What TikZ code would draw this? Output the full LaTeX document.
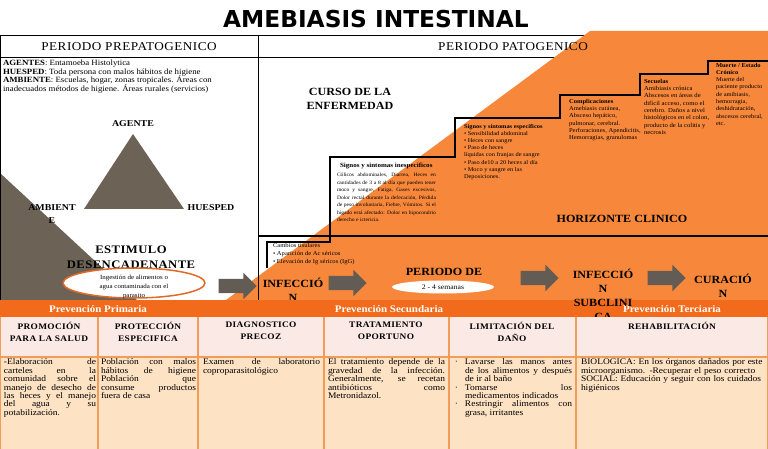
\documentclass[tikz,border=0pt]{standalone}
\usepackage{fontspec}
\setmainfont{Liberation Serif}[FakeStretch=1.1]
\newfontfamily\titlefont{DejaVu Sans}
\usepackage{tikz}
\usetikzlibrary{shapes.arrows,shapes.geometric}
\definecolor{diagorange}{HTML}{F7883B}
\definecolor{barorange}{HTML}{F26B1D}
\definecolor{taupe}{HTML}{6C6256}
\definecolor{arrowgray}{HTML}{625C55}
\definecolor{headpink}{HTML}{FBE9E6}
\definecolor{bodypeach}{HTML}{FDE2C4}
\definecolor{gridorange}{HTML}{F29C5A}
\definecolor{ringorange}{HTML}{E26A28}

\begin{document}
\begin{tikzpicture}[x=1pt, y=-1pt,
    every node/.style={inner sep=0pt, outer sep=0pt},
    panelhead/.style={font=\fontsize{12}{12}\selectfont\addfontfeature{LetterSpace=4}},
    bigword/.style={font=\bfseries\fontsize{11}{14}\selectfont, align=center},
    stairtext/.style={anchor=north west, align=left, font=\fontsize{6}{7.3}\selectfont},
    grayarrow/.style={single arrow, fill=arrowgray, minimum height=38pt, inner xsep=0pt, inner ysep=7pt, single arrow head extend=6pt},
    barlabel/.style={text=white, font=\bfseries\fontsize{10}{10}\selectfont},
    cellhead/.style={anchor=north, align=center, font=\bfseries\fontsize{8.5}{12.3}\selectfont\addfontfeature{LetterSpace=4}},
    cellbody/.style={anchor=north west, align=justify, font=\fontsize{8.6}{8.35}\selectfont}]
\useasboundingbox (0,0) rectangle (768,449);
\fill[white] (0,0) rectangle (768,449);
% Prepathogenic panel shapes
\fill[taupe] (0,173) -- (137,300) -- (0,300) -- cycle;
\fill[taupe] (133,134) -- (184,209) -- (84,209) -- cycle;
% Frame
\draw[line width=1pt] (0,36) -- (768,36);
\draw[line width=1pt] (0,58) -- (768,58);
\draw[line width=0.8pt] (0.5,36) -- (0.5,300);
% Orange course of the disease
\fill[diagorange] (590,31) -- (768,31) -- (768,300) -- (226,300) -- cycle;
\draw[line width=1pt] (258,36) -- (258,300);
% Titles
\node[font=\titlefont\bfseries\fontsize{23.3}{23.3}\selectfont] (title) at (376,19) {AMEBIASIS INTESTINAL};
\node[panelhead] (prepat) at (129,47) {PERIODO PREPATOGENICO};
\node[panelhead] (patog) at (513,47) {PERIODO PATOGENICO};
% Triad
\node[anchor=north west, align=left, font=\fontsize{8}{8.7}\selectfont] (factores) at (3,60)
  {\textbf{AGENTES}: Entamoeba Histolytica\\
   \textbf{HUESPED}: Toda persona con malos hábitos de higiene\\
   \textbf{AMBIENTE}: Escuelas, hogar, zonas tropicales. Áreas con\\
   inadecuados métodos de higiene. Áreas rurales (servicios)};
\node[font=\bfseries\fontsize{9}{9}\selectfont] (agente) at (133,124) {AGENTE};
\node[font=\bfseries\fontsize{9}{13}\selectfont, align=center] (ambiente) at (52,214) {AMBIENT\\E};
\node[font=\bfseries\fontsize{9}{9}\selectfont] (huesped) at (211,208) {HUESPED};
\node[font=\bfseries\fontsize{11.5}{15}\selectfont\addfontfeature{LetterSpace=4}, align=center] (estimulo) at (131,257) {ESTIMULO\\DESENCADENANTE};
\node[ellipse, draw=ringorange, line width=1.5pt, fill=white, minimum width=142pt, minimum height=30pt] (ingesta) at (134,283) {};
\node[font=\fontsize{6.3}{8.7}\selectfont, align=center] (ingestatxt) at (134,287)
  {Ingestión de alimentos o\\agua contaminada con el\\parasito};
% Staircase and clinical horizon
\draw[line width=1.5pt] (258,236) -- (768,236);
\draw[line width=2.5pt] (267,268) -- (267,242) -- (330,242) -- (330,157) -- (455,157)
  -- (455,118) -- (560,118) -- (560,95) -- (640,95) -- (640,74) -- (708,74) -- (708,61) -- (768,61);
\node[bigword] (curso) at (350,99) {CURSO DE LA\\ENFERMEDAD};
\node[anchor=north west, font=\bfseries\fontsize{6.4}{6.4}\selectfont] (inesptitle) at (340,163) {Signos y sintomas inespecificos};
\node[anchor=north west, text width=99pt, align=justify, font=\fontsize{5.1}{7.5}\selectfont] (inesp) at (337,173)
  {Cólicos abdominales, Diarrea, Heces en\linebreak cantidades de 3 a 8 al día que pueden tener\linebreak
   moco y sangre, Fatiga, Gases excesivos,\linebreak Dolor rectal durante la defecación, Pérdida\linebreak
   de peso involuntaria, Fiebre, Vómitos. Si el\linebreak hígado está afectado: Dolor en hipocondrio\linebreak
   derecho e ictericia.};
\node[stairtext, font=\fontsize{5.8}{7.2}\selectfont] (esp) at (464,124)
  {\textbf{Signos y sintomas especificos}\\ • Sensibilidad abdominal\\ • Heces con sangre\\ • Paso de heces\\
   líquidas con franjas de sangre\\ • Paso de10 a 20 heces al día\\ • Moco y sangre en las\\ Deposiciones.};
\node[stairtext] (complic) at (569,99)
  {\textbf{Complicaciones}\\ Amebiasis cutánea,\\ Absceso hepático,\\ pulmonar, cerebral.\\ Perforaciones, Apendicitis,\\ Hemorragias, granulomas};
\node[stairtext, font=\fontsize{6.1}{7.3}\selectfont] (secuelas) at (644,79)
  {\textbf{Secuelas}\\ Amibiasis crónica\\ Abscesos en áreas de\\ difícil acceso, como el\\ cerebro. Daños a nivel\\
   histológicos en el colon,\\ producto de la colitis y\\ necrosis};
\node[stairtext, font=\fontsize{5.9}{7.3}\selectfont] (muerte) at (716,63)
  {\textbf{Muerte / Estado}\\ \textbf{Crónico}\\ Muerte del\\ paciente producto\\ de amibiasis,\\ hemorragia,\\
   deshidratación,\\ abscesos cerebral,\\ etc.};
\node[bigword] (horizonte) at (622,219) {HORIZONTE CLINICO};
\node[anchor=north west, align=left, font=\fontsize{6}{8}\selectfont] (cambios) at (273,243)
  {Cambios tisulares\\ • Aparición de Ac séricos\\ • Elevación de Ig séricos (IgG)};
% Natural history row
\node[grayarrow] (flechaA) at (234,286) {};
\node[bigword] (infeccion) at (293,290) {INFECCIÓ\\N};
\node[grayarrow] (flechaB) at (344,283) {};
\node[bigword] (periodo) at (444,272) {PERIODO DE};
\node[ellipse, fill=white, minimum width=102pt, minimum height=13pt, font=\fontsize{7}{7}\selectfont] (semanas) at (443,287) {2 - 4 semanas};
\node[grayarrow] (flechaC) at (536,278) {};
\node[grayarrow] (flechaD) at (663,278) {};
\node[bigword] (curacion) at (723,286) {CURACIÓ\\N};
% Prevention levels
\fill[barorange] (0,300) rectangle (768,317);
\node[barlabel] (prevprim) at (98,309) {Prevención Primaria};
\node[barlabel] (prevsec) at (389,309) {Prevención Secundaria};
\node[barlabel] (prevter) at (672,309) {Prevención Terciaria};
\node[bigword] (subclinica) at (603,295) {INFECCIÓ\\N\\SUBCLINI\\CA};
% Table
\fill[headpink] (0,317) rectangle (768,357);
\fill[bodypeach] (0,357) rectangle (768,449);
\draw[gridorange, line width=1.2pt] (0,357) -- (768,357);
\foreach \cx in {0.6,98,198,324,449,576,767.4}
  \draw[gridorange, line width=1.2pt] (\cx,317) -- (\cx,449);
\node[cellhead] (promocion) at (49,322) {PROMOCIÓN\\PARA LA SALUD};
\node[cellhead] (proteccion) at (148,322) {PROTECCIÓN\\ESPECIFICA};
\node[cellhead] (diagnostico) at (261,322) {DIAGNOSTICO\\PRECOZ};
\node[cellhead] (tratamiento) at (386,322) {TRATAMIENTO\\OPORTUNO};
\node[cellhead] (limitacion) at (512,322) {LIMITACIÓN DEL\\DAÑO};
\node[cellhead] (rehabilitacion) at (672,322) {REHABILITACIÓN};
\node[cellbody, text width=92pt] (promtxt) at (4,359)
  {-Elaboración de\linebreak carteles en la\linebreak comunidad sobre el\linebreak manejo de desecho de\linebreak
   las heces y el manejo\linebreak del agua y su\linebreak potabilización.};
\node[cellbody, text width=95pt] (prottxt) at (101,359)
  {Población con malos\linebreak hábitos de higiene\linebreak Población que\linebreak consume productos\linebreak fuera de casa};
\node[cellbody, text width=117pt] (diagtxt) at (203,359)
  {Examen de laboratorio\linebreak coproparasitológico};
\node[cellbody, text width=117pt] (tratxt) at (328,359)
  {El tratamiento depende de la\linebreak gravedad de la infección.\linebreak Generalmente, se recetan\linebreak
   antibióticos como\linebreak Metronidazol.};
\node[cellbody, text width=107pt] (limtxt) at (465,359)
  {\noindent\llap{·\hspace{7pt}}Lavarse las manos antes\linebreak de los alimentos y después\linebreak de ir al baño\par
   \noindent\llap{·\hspace{7pt}}Tomarse los\linebreak medicamentos indicados\par
   \noindent\llap{·\hspace{7pt}}Restringir alimentos con\linebreak grasa, irritantes};
\node[cellbody, align=left, text width=183pt] (rehtxt) at (581,359)
  {BIOLOGICA: En los órganos dañados por este\\ microorganismo. -Recuperar el peso correcto\\
   SOCIAL: Educación y seguir con los cuidados\\ higiénicos};
\end{tikzpicture}
\end{document}
